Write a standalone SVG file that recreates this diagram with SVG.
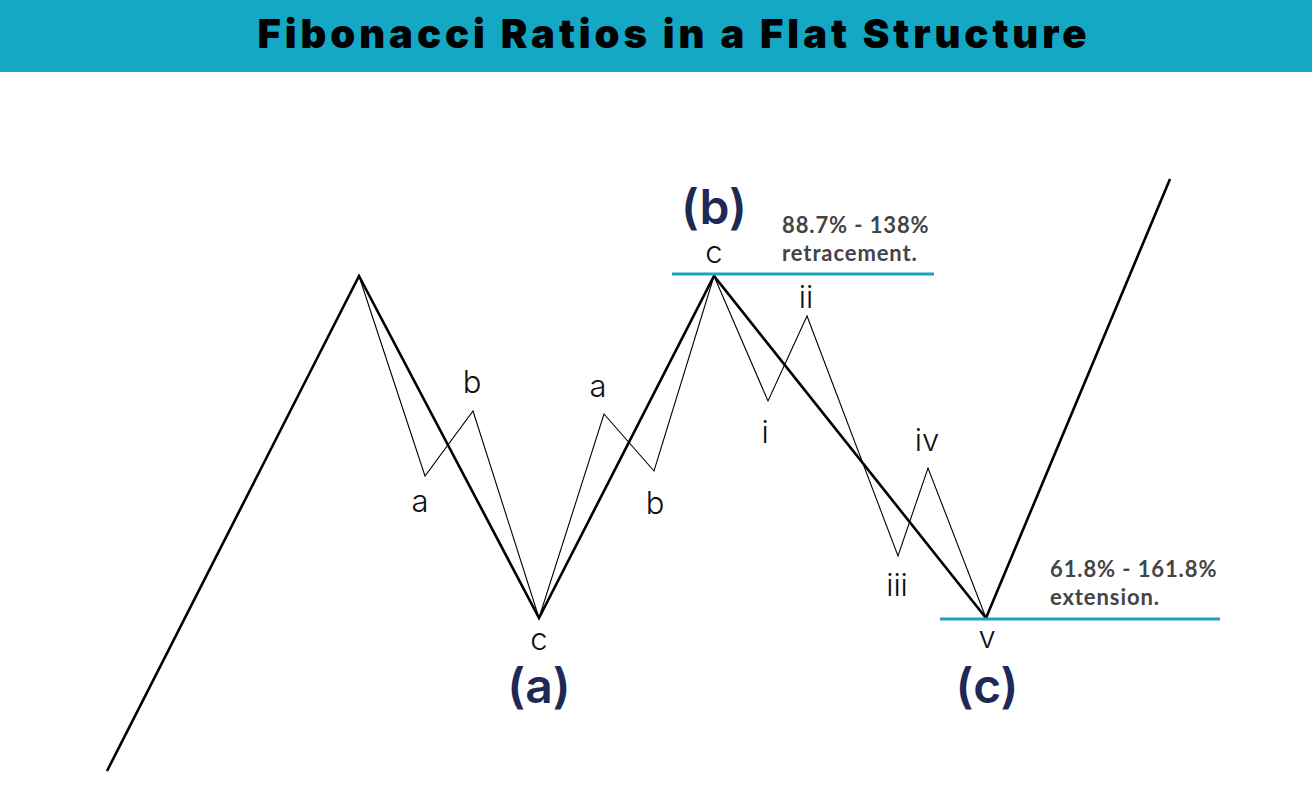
<svg xmlns="http://www.w3.org/2000/svg" width="1312" height="805" viewBox="0 0 1312 805">
<style>
.title{font-family:"Inter","Lato","Liberation Sans",sans-serif;font-weight:900;font-size:40px;fill:#000;}
.main{fill:none;stroke:#000;stroke-width:2.6;stroke-linejoin:miter;}
.sub{fill:none;stroke:#000;stroke-width:1.1;stroke-linejoin:miter;}
.lvl{stroke:#1BA5BD;stroke-width:3;}
.lbl{font-family:"Inter","Noto Sans",sans-serif;font-weight:300;font-size:31px;fill:#111;text-anchor:middle;}
.big{font-family:"Inter","Noto Sans",sans-serif;font-weight:600;font-size:48px;fill:#1E2A55;text-anchor:middle;}
.note{font-family:"Lato","Liberation Sans",sans-serif;font-weight:700;font-size:22px;letter-spacing:0.9px;fill:#444;}
</style>
<rect x="0" y="0" width="1312" height="72" fill="#14A8C4"/>
<text class="title" x="672" y="48" text-anchor="middle" textLength="829" lengthAdjust="spacing">Fibonacci Ratios in a Flat Structure</text>
<g id="connectors">
<polyline class="sub" points="359,276 425,476 473,411 539,618"/>
<polyline class="sub" points="539,618 604,414 654,471 714,276"/>
<polyline class="sub" points="714,276 768,401 807,316 898,556 928,468 986,618"/>
<polyline class="main" points="107,771 359,276 539,618 714,276 986,618 1170,179"/>
<line class="lvl" x1="672" y1="274" x2="934" y2="274"/>
<line class="lvl" x1="940" y1="619" x2="1220" y2="619"/>
</g>
<g id="node-a"><text class="big" x="539" y="703">(a)</text><text class="lbl" x="539" y="650">c</text></g>
<g id="node-b"><text class="big" x="714" y="224">(b)</text><text class="lbl" x="714" y="263">c</text></g>
<g id="node-c"><text class="big" x="987" y="703">(c)</text><text class="lbl" x="987" y="648">v</text></g>
<g id="sub-labels">
<text class="lbl" x="420" y="512">a</text>
<text class="lbl" x="472" y="393">b</text>
<text class="lbl" x="598" y="397">a</text>
<text class="lbl" x="655" y="514">b</text>
<text class="lbl" x="765" y="443">i</text>
<text class="lbl" x="806" y="308">ii</text>
<text class="lbl" x="897" y="596">iii</text>
<text class="lbl" x="927" y="451">iv</text>
</g>
<g id="note-b"><text class="note" x="782" y="233">88.7% - 138%</text><text class="note" x="782" y="261">retracement.</text></g>
<g id="note-c"><text class="note" x="1050" y="577">61.8% - 161.8%</text><text class="note" x="1050" y="605">extension.</text></g>
</svg>
